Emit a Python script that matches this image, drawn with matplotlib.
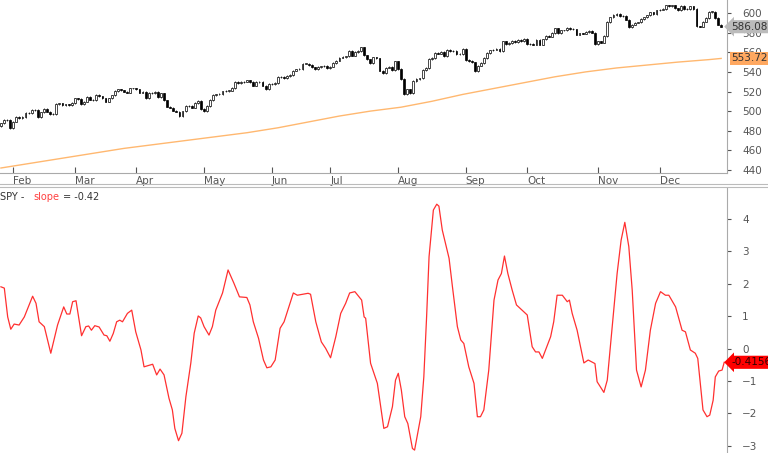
import matplotlib.pyplot as plt
import numpy as np
import pandas as pd

# SPY daily closes, 2024-01-26 .. 2024-12-31
closes = [
    487.4, 491.3, 490.9, 482.9, 489.2, 494.4, 492.6, 494.0, 498.1, 498.3,
    501.2, 501.0, 494.1, 498.6, 502.0, 499.5, 496.8, 497.2, 507.5, 507.9,
    506.0, 506.9, 506.3, 508.1, 512.9, 512.3, 507.2, 509.8, 514.8, 511.7,
    511.3, 516.8, 515.0, 513.0, 509.8, 512.9, 516.0, 520.5, 522.2, 521.2,
    519.8, 518.8, 523.2, 523.1, 522.2, 518.8, 519.4, 513.1, 518.4, 518.7,
    519.3, 514.1, 518.0, 510.9, 504.5, 503.5, 500.6, 499.5, 495.2, 499.7,
    505.7, 505.4, 503.5, 508.3, 510.1, 502.0, 500.4, 505.0, 511.3, 516.6,
    517.1, 517.2, 520.2, 520.8, 520.9, 523.3, 529.8, 528.7, 529.5, 530.1,
    531.4, 529.8, 526.0, 529.4, 529.8, 526.1, 522.6, 527.4, 527.8, 528.4,
    534.7, 534.7, 534.0, 535.7, 537.0, 541.4, 542.5, 542.8, 548.5, 548.5,
    547.0, 544.5, 542.7, 544.8, 545.5, 546.4, 544.2, 545.3, 549.0, 551.5,
    554.6, 555.3, 555.8, 561.3, 556.5, 560.0, 561.5, 564.9, 556.9, 552.7,
    549.0, 554.7, 553.8, 541.2, 538.4, 544.4, 544.8, 542.0, 550.8, 543.0,
    532.9, 517.4, 522.2, 518.7, 530.7, 533.0, 533.3, 542.0, 543.8, 553.1,
    554.3, 559.6, 558.7, 560.6, 556.2, 562.1, 560.8, 561.6, 558.3, 558.4,
    563.7, 552.1, 551.0, 549.6, 540.4, 546.4, 548.8, 554.4, 559.1, 562.0,
    562.8, 563.1, 561.4, 571.0, 568.3, 569.7, 571.3, 570.0, 572.3, 571.5,
    573.8, 568.6, 568.9, 567.8, 573.0, 567.8, 573.2, 577.1, 575.9, 579.6,
    584.3, 579.8, 582.3, 582.4, 584.6, 583.6, 583.3, 578.0, 579.2, 579.0,
    580.8, 581.8, 580.0, 568.6, 571.0, 569.8, 576.7, 591.0, 595.6, 598.2,
    598.8, 596.9, 597.2, 593.4, 585.8, 588.2, 590.3, 590.5, 593.7, 595.5,
    597.5, 600.7, 598.8, 602.6, 603.6, 603.9, 607.7, 607.0, 607.8, 604.7,
    602.8, 607.5, 604.3, 604.2, 606.8, 604.3, 586.3, 586.1, 591.2, 594.7,
    601.3, 601.3, 595.0, 588.2, 586.08,
]
first_open = 485.0
holidays = ["2024-02-19", "2024-03-29", "2024-05-27", "2024-06-19",
            "2024-07-04", "2024-09-02", "2024-11-28", "2024-12-25"]

# 200-day moving average, read at every 10th bar
ma_x = [0, 10, 20, 30, 40, 50, 60, 70, 80, 90, 100, 110, 120, 130, 140,
        150, 160, 170, 180, 190, 200, 210, 220, 230, 234]
ma_y = [442, 447, 452, 457, 462, 466, 470, 474, 478, 483, 489, 495, 500,
        504, 510, 517, 523, 529, 535, 540, 544, 547, 550, 552.5, 553.722]

slope_x = [0, 1.1, 2.2, 3.2, 4.3, 5.9, 7.6, 10.3, 11.4, 12.4, 14.1, 16.2, 18.4,
           20.4, 21.4, 22.4, 23.3, 24.4, 26.2, 27.6, 28.5, 29.4, 30.5, 31.9,
           33.5, 34.4, 35.4, 36.5, 37.6, 38.6, 39.5, 41.1, 42.5, 43.8, 45.5,
           46.5, 49.3, 50.6, 51.7, 53.0, 54.6, 55.7, 56.5, 57.7, 58.8, 60.1,
           61.7, 62.8, 64.1, 64.9, 66.0, 67.6, 68.7, 69.8, 72.0, 73.8, 75.7,
           77.5, 79.9, 80.9, 82.0, 83.7, 85.3, 86.4, 87.7, 89.1, 90.7, 92.0,
           95.0, 96.3, 98.0, 99.8, 100.6, 102.3, 104.1, 105.5, 107.1, 108.8,
           110.4, 112.0, 113.3, 115.0, 117.2, 118.0, 118.5, 120.1, 122.3, 124.4,
           125.6, 127.2, 128.2, 129.1, 130.1, 131.2, 132.2, 133.7, 134.4, 136.4,
           137.4, 138.3, 139.1, 140.5, 141.6, 142.3, 143.4, 145.6, 146.7, 148.3,
           149.4, 150.4, 152.0, 153.7, 154.8, 155.8, 156.9, 158.5, 160.2, 161.5,
           162.6, 163.6, 164.7, 166.1, 167.5, 169.9, 171.0, 172.6, 173.7, 174.8,
           175.9, 178.6, 179.6, 180.7, 182.4, 184.0, 184.7, 185.6, 187.2, 189.4,
           190.8, 193.0, 193.7, 195.9, 197.0, 198.6, 200.2, 201.5, 202.7, 204.0,
           205.1, 206.5, 208.0, 209.4, 211.0, 212.7, 214.3, 215.9, 217.0, 219.2,
           221.3, 222.4, 224.0, 225.6, 226.4, 228.1, 229.4, 230.3, 231.4, 232.1,
           233.2, 234.3, 235.0]
slope_y = [1.91, 1.87, 0.98, 0.60, 0.76, 0.73, 0.98, 1.62, 1.40, 0.83, 0.68, -0.14,
           0.73, 1.29, 1.07, 1.07, 1.45, 1.48, 0.40, 0.68, 0.70, 0.57, 0.71, 0.67,
           0.42, 0.40, 0.23, 0.47, 0.83, 0.88, 0.83, 1.09, 1.19, 0.52, -0.04,
           -0.56, -0.48, -0.81, -0.63, -0.81, -1.53, -1.89, -2.46, -2.84, -2.61,
           -1.48, -0.44, 0.48, 1.01, 0.95, 0.68, 0.42, 0.68, 1.19, 1.72, 2.43,
           2.02, 1.60, 1.58, 1.35, 0.83, 0.32, -0.35, -0.59, -0.56, -0.35, 0.63,
           0.83, 1.72, 1.65, 1.68, 1.71, 1.68, 0.83, 0.21, 0.01, -0.28, 0.37,
           1.09, 1.40, 1.72, 1.76, 1.50, 0.98, 0.94, -0.45, -1.07, -2.46,
           -2.41, -1.79, -0.97, -0.76, -1.28, -2.10, -2.31, -3.08, -3.13, -2.10,
           -0.87, 0.98, 2.84, 4.28, 4.46, 4.40, 3.66, 2.79, 1.91, 0.68,
           0.27, 0.16, -0.56, -1.07, -2.10, -2.10, -1.89, -0.66, 1.50, 2.12,
           2.32, 2.86, 2.32, 1.81, 1.35, 1.14, 1.04, 0.06, -0.10, -0.10,
           -0.30, 0.37, 0.83, 1.65, 1.65, 1.45, 1.50, 1.09, 0.57, -0.44,
           -0.35, -0.46, -1.02, -1.35, -0.97, 0.68, 2.32, 3.35, 3.90, 3.15,
           1.81, -0.66, -1.18, -0.66, 0.57, 1.40, 1.76, 1.65, 1.65, 1.29,
           0.57, 0.52, -0.04, -0.14, -0.30, -1.89, -2.10, -2.05, -1.59, -0.87,
           -0.69, -0.66, -0.42]
slope_last = "-0.415636"

dates = pd.bdate_range("2024-01-26", "2024-12-31")
dates = dates[~dates.isin(pd.to_datetime(holidays))]
n = min(len(dates), len(closes))
dates = dates[:n]
closes = np.array(closes[:n])
opens = np.concatenate([[first_open], closes[:-1]])
idx = np.arange(n)

fig = plt.figure(figsize=(7.68, 4.53), dpi=100)
ax1 = fig.add_axes([0, 1 - 173 / 453, 727 / 768, 173 / 453])
ax2 = fig.add_axes([0, 0, 727 / 768, 265 / 453])

# candles
for i in idx:
    o, c = opens[i], closes[i]
    lo, hi = min(o, c), max(o, c)
    ax1.vlines(i, lo - 0.8, hi + 0.8, color="black", lw=0.5, zorder=2)
    h = max(hi - lo, 0.3)
    ax1.bar(i, h, bottom=lo, width=0.6,
            color="white" if c >= o else "black", edgecolor="black", lw=0.5, zorder=3)
ax1.plot(ma_x, ma_y, color="#ffb870", lw=1, zorder=1)

xl = (-0.3, n + 0.9)
ax1.set_xlim(xl)
ax1.set_ylim(436.9, 613.3)
ax2.set_xlim(xl)
ax2.set_ylim(-3.22, 4.96)
ax2.plot(slope_x, slope_y, color="#ff3030", lw=0.9)

months = pd.Series(idx, index=dates).groupby(dates.month).first()
mpos = months.values[1:]
mlab = [pd.Timestamp(2024, m, 1).strftime("%b") for m in months.index[1:]]

for ax in (ax1, ax2):
    ax.yaxis.tick_right()
    ax.tick_params(axis="y", direction="out", length=3, labelsize=7.5,
                   colors="#555555", pad=8)
    for s in ("top", "left", "bottom"):
        ax.spines[s].set_visible(False)
    ax.spines["right"].set_color("#aaaaaa")

ax1.set_yticks(range(440, 601, 20))
ax1.set_xticks(mpos)
ax1.set_xticklabels(mlab, ha="left")
ax1.tick_params(axis="x", direction="in", length=4, labelsize=7.5,
                colors="#555555", pad=2)
ax1.spines["bottom"].set_visible(True)
ax1.spines["bottom"].set_color("#aaaaaa")
ax2.set_yticks(range(-3, 5))
ax2.set_xticks([])

fig.add_artist(plt.Line2D([0, 1], [1 - 184 / 453] * 2, color="#bbbbbb", lw=0.8))
fig.add_artist(plt.Line2D([0, 1], [1 - 187 / 453] * 2, color="#bbbbbb", lw=0.8))

# last value tags
tag = dict(xycoords=("axes fraction", "data"), xytext=(3, 0), textcoords="offset points",
           va="center", fontsize=7.5, zorder=10, annotation_clip=False)
ax1.annotate(f"{closes[-1]:.2f}", xy=(1.0, closes[-1]), color="#333333",
             bbox=dict(boxstyle="larrow,pad=0.15", fc="#bbbbbb", ec="none"), **tag)
ax1.annotate(f"{ma_y[-1]:.3f}", xy=(1.0, ma_y[-1]), color="#333333",
             bbox=dict(boxstyle="square,pad=0.15", fc="#ffa860", ec="none"), **tag)
ax2.annotate(slope_last, xy=(1.0, slope_y[-1]), color="#330000",
             bbox=dict(boxstyle="larrow,pad=0.15", fc="#ff0000", ec="none"), **tag)

ax2.text(0.0, 0.985, "SPY - ", transform=ax2.transAxes, fontsize=7, color="#333333", va="top")
ax2.text(0.046, 0.985, "slope", transform=ax2.transAxes, fontsize=7, color="#ff4040", va="top")
ax2.text(0.087, 0.985, "= -0.42", transform=ax2.transAxes, fontsize=7, color="#333333", va="top")

fig.savefig("out.png", dpi=100)
